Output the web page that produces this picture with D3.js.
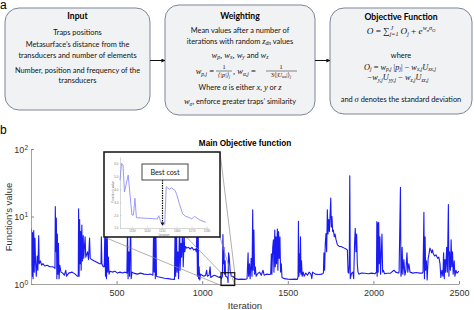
<!DOCTYPE html>
<html>
<head>
<meta charset="utf-8">
<script src="https://cdn.jsdelivr.net/npm/d3@7"></script>
<style>
  body { margin: 0; background: #fff; }
  svg { display: block; }
</style>
</head>
<body>
<script>
/*** DATA ***/
// main objective function (log scale)
const iterations = [
  0, 3, 6, 9, 12, 16, 19, 23, 27, 31, 36, 40, 45, 48, 55, 62, 70, 80, 95, 110, 125, 137,
  140, 142, 145, 148, 151, 154, 157, 160, 164, 168, 175, 185, 195, 203, 208, 220, 240, 258, 272,
  276, 278, 281, 284, 287, 290, 293, 297, 300, 305, 308, 316, 320, 330, 336, 342, 346, 355, 370, 385, 400, 409, 411, 414, 422,
  428, 432, 435, 438, 441, 445, 448, 452, 456, 462, 475, 490, 505, 520, 535, 550, 560, 564, 567, 572, 576, 582, 585, 590, 600,
  620, 640, 660, 680, 700, 712, 716, 719, 723, 726, 730, 733, 740, 760, 780, 800, 820, 838,
  842, 845, 850, 853, 858, 862, 868, 871, 876, 880, 886, 889, 895, 898, 903, 910, 920, 930, 940, 950, 960, 966,
  969, 972, 976, 979, 982, 986, 990, 1000, 1010, 1020, 1026, 1030, 1040, 1046, 1050, 1060, 1070, 1085, 1100,
  1105, 1112, 1118, 1121, 1124, 1127, 1130, 1134, 1137, 1148, 1151, 1154, 1158, 1163, 1170, 1180, 1192, 1210, 1230, 1250, 1262,
  1268, 1271, 1276, 1280, 1286, 1291, 1295, 1298, 1302, 1306, 1310, 1315, 1322, 1335, 1345, 1355, 1362, 1375, 1390, 1400,
  1404, 1407, 1412, 1416, 1419, 1424, 1427, 1431, 1434, 1439, 1442, 1446, 1450, 1454, 1458, 1462, 1466, 1480, 1500, 1520, 1540, 1556,
  1560, 1562, 1565, 1568, 1571, 1574, 1577, 1580, 1584, 1590, 1596, 1605, 1615, 1625, 1635, 1640, 1645, 1660, 1680, 1700,
  1708, 1711, 1715, 1719, 1723, 1727, 1731, 1735, 1739, 1743, 1747, 1751, 1754, 1758, 1762, 1766, 1772, 1776, 1782, 1790, 1800, 1810, 1820, 1830, 1840, 1848, 1852, 1856,
  1859, 1862, 1865, 1868, 1873, 1880, 1885, 1890, 1894, 1898, 1902, 1906, 1910, 1915, 1930, 1950, 1970, 1990, 2010,
  2018, 2020, 2022, 2025, 2028, 2031, 2034, 2038, 2042, 2046, 2050, 2054, 2058, 2065, 2080, 2100, 2120, 2130, 2145,
  2150, 2158, 2161, 2164, 2168, 2172, 2178, 2184, 2190, 2196, 2201, 2207, 2214, 2230, 2250, 2270, 2285,
  2290, 2295, 2298, 2302, 2305, 2310, 2314, 2320, 2325, 2330, 2335, 2340, 2345, 2350, 2358, 2366, 2375, 2382, 2389, 2394, 2400, 2406,
  2410, 2414, 2418, 2422, 2428, 2432, 2438, 2441, 2445, 2450, 2454, 2458, 2462, 2466, 2472, 2476, 2482, 2488, 2494, 2500
];
const values = [
  1.8, 6.5, 1.3, 5.8, 1.2, 6.2, 1.5, 4.8, 2.0, 1.3, 2.6, 1.6, 5.2, 2.0, 2.2, 1.9, 2.0, 1.85, 1.9, 1.8, 1.8, 1.75,
  1.7, 14, 3, 9.5, 1.2, 5.5, 1.4, 4, 1.2, 1.9, 1.5, 1.45, 1.35, 1.6, 1.3, 1.45, 1.5, 1.4, 1.3,
  1.3, 13, 1.3, 9, 2, 6, 1.6, 7.5, 2.2, 5.2, 2.4, 5, 2.5, 3, 2.3, 4.8, 2.4, 2.3, 2.2, 2.1, 2.0, 2.0, 5, 2.0, 1.8,
  1.8, 8, 1.3, 6, 1.2, 7, 1.5, 2.5, 1.4, 1.55, 1.5, 1.55, 1.45, 1.5, 1.45, 1.5, 1.45, 7, 1.2, 3, 1.3, 9, 1.2, 1.5, 1.45,
  1.4, 1.45, 1.4, 1.38, 1.4, 1.35, 6, 1.5, 10, 1.2, 5, 1.3, 1.28, 1.25, 1.22, 1.2, 1.18, 1.17,
  8, 1.3, 6, 1.5, 3, 1.2, 9, 1.6, 4, 2.5, 7, 1.8, 5, 3, 3.6, 3.4, 3.5, 3.3, 3.5, 3.2, 3.3, 3.0,
  7, 1.3, 12, 1.2, 1.8, 1.15, 1.4, 1.35, 1.3, 1.35, 1.6, 1.3, 1.35, 1.8, 1.25, 1.3, 1.35, 1.3, 1.25,
  1.3, 1.2, 1.3, 5.4, 2.0, 3.5, 1.4, 2.2, 1.3, 1.25, 1.05, 2.9, 2.5, 1.6, 1.3, 1.3, 1.2, 1.17, 1.18, 1.17, 1.2,
  2.9, 1.3, 2.0, 1.2, 2.4, 1.3, 12.6, 1.6, 6.3, 1.4, 1.8, 1.3, 1.4, 1.5, 1.35, 1.6, 1.35, 1.4, 1.38, 1.4,
  2.8, 1.4, 3.5, 4.5, 1.5, 6.3, 1.8, 5, 2, 6.5, 1.6, 6, 2.4, 5, 1.5, 2, 1.25, 1.2, 1.18, 1.17, 1.18, 1.17,
  1.3, 8.5, 1.3, 2.8, 1.5, 5, 1.4, 2.2, 1.3, 1.5, 1.3, 1.45, 1.35, 1.5, 1.4, 1.2, 1.5, 1.4, 1.38, 1.4,
  1.45, 2.9, 1.6, 4, 5.6, 3, 12.6, 5.5, 9, 6, 10.5, 18.7, 7, 10, 6, 6.3, 5, 5.5, 4.5, 3.8, 3.6, 3.6, 3.5, 3.4, 3.3, 3.2, 1.5, 1.45,
  2, 40, 1.2, 1.3, 1.45, 1.5, 1.2, 4, 6.7, 3, 5.5, 2, 1.5, 1.4, 1.45, 1.44, 1.42, 1.45, 1.42,
  1.5, 8.4, 1.3, 8, 1.5, 8.2, 2, 5, 1.4, 2.8, 5.5, 1.5, 1.6, 1.42, 1.44, 1.45, 1.6, 1.5, 1.45,
  1.5, 27, 1.3, 1.5, 3.5, 1.4, 2.3, 1.35, 1.6, 2.9, 1.5, 2.0, 1.5, 1.45, 1.48, 1.45, 1.45,
  1.5, 11.5, 1.2, 5, 1.6, 2.2, 1.15, 2.4, 2.8, 3.4, 3.2, 2.9, 3.2, 2.8, 2.6, 2.7, 2.4, 2.5, 2.0, 1.25, 1.6, 1.3,
  2.9, 1.2, 2.3, 1.5, 3.5, 1.5, 15, 1.3, 3, 1.6, 4.5, 1.8, 3.0, 1.4, 2.2, 1.3, 1.6, 1.45, 1.5, 1.55
];
const xTicks = [500, 1000, 1500, 2000, 2500];
const yTicks = [1, 10, 100];

// zoomed inset (linear scale)
const insetIter = [1122, 1123, 1124, 1125, 1127.5, 1130, 1131, 1132, 1133, 1140, 1147, 1148, 1149, 1150.5, 1152,
  1153, 1155, 1156.5, 1159, 1160, 1162, 1164, 1166, 1168.7, 1170, 1172, 1175, 1177, 1179.5];
const insetVal = [4.7, 6.0, 5.9, 3.8, 5.1, 2.0, 2.0, 3.3, 1.8, 1.75, 1.7, 1.95, 1.6, 1.2, 1.3,
  4.2, 4.0, 4.1, 3.9, 3.6, 2.8, 2.1, 1.9, 1.8, 1.7, 1.9, 1.65, 1.55, 1.45];
const insetXTicks = [1130, 1140, 1150, 1160, 1170, 1180];
const insetYTicks = [1, 2, 3, 4, 5, 6];
const zoomIter = [1110, 1190];   // boxed window on the main plot
const zoomVal = [0.95, 1.47];

/*** SETUP ***/
const SANS = 'Lato, "Open Sans", sans-serif';
const SERIF = '"Liberation Serif", "DejaVu Serif", serif';
const HELV = '"Liberation Sans", Arial, sans-serif';

const svg = d3.select('body')
  .append('svg')
  .attr('width', 474)
  .attr('height', 310);

// rich text helper: parts = [text, kind, dx]
// kind: '' sans, 'r' serif roman, 'm' serif italic, +b subscript, +p superscript, +q sub of sup
function rich(g, x, y, parts, size, anchor) {
  const t = g.append('text')
    .attr('x', x).attr('y', y)
    .attr('text-anchor', anchor || 'middle')
    .style('font-size', size + 'px')
    .style('fill', '#111');
  let off = 0;
  parts.forEach(([s, k, dx]) => {
    k = k || '';
    const serif = k.includes('m') || k.includes('r');
    const fs = serif ? size * 1.15 : size;
    let base = 0, sz = fs;
    if (k.includes('b')) { base = size * 0.25; sz = fs * 0.66; }
    if (k.includes('p')) { base = -size * 0.45; sz = fs * 0.66; }
    if (k.includes('q')) { base = -size * 0.22; sz = fs * 0.5; }
    const ts = t.append('tspan').attr('dy', base - off).text(s);
    off = base;
    if (dx) ts.attr('dx', dx);
    ts.style('font-family', serif ? SERIF : SANS)
      .style('font-style', k.includes('m') ? 'italic' : 'normal')
      .style('font-size', sz + 'px');
  });
  return t;
}

/*** PANEL A ***/
svg.append('text').attr('x', 0).attr('y', 9).style('font-family', HELV).style('font-size', '12px').text('a');

const boxes = [
  { x: 5, y: 8, w: 145, h: 102 },
  { x: 165, y: 5, w: 150, h: 110 },
  { x: 330, y: 8, w: 142, h: 106 }
];
svg.selectAll('.box')
  .data(boxes)
  .join('rect')
  .attr('class', 'box')
  .attr('x', d => d.x).attr('y', d => d.y)
  .attr('width', d => d.w).attr('height', d => d.h)
  .attr('rx', 14)
  .attr('fill', '#f1f2f4')
  .attr('stroke', '#7d8597')
  .attr('stroke-width', 1);

svg.append('defs').append('marker')
  .attr('id', 'arr')
  .attr('viewBox', '0 0 10 10')
  .attr('refX', 9).attr('refY', 5)
  .attr('markerWidth', 4).attr('markerHeight', 4)
  .attr('orient', 'auto')
  .append('path').attr('d', 'M0,0L10,5L0,10z').attr('fill', '#111');

[[150, 165], [315, 330]].forEach(([a, b]) => {
  svg.append('line')
    .attr('x1', a).attr('x2', b).attr('y1', 60.5).attr('y2', 60.5)
    .attr('stroke', '#111').attr('stroke-width', 1)
    .attr('marker-end', 'url(#arr)');
});

const pa = svg.append('g');
const T = 7.4;
// input box
pa.append('text').attr('x', 77.5).attr('y', 19).attr('text-anchor', 'middle')
  .style('font-family', SANS).style('font-weight', 700).style('font-size', '8.6px').text('Input');
[['Traps positions', 34.5], ['Metasurface\u2019s distance from the', 47], ['transducers and number of elements', 58],
 ['Number, position and frequency of the', 73], ['transducers', 82.5]].forEach(([s, yy]) => {
  rich(pa, 77.5, yy, [[s, '']], T);
});

// weighting box
pa.append('text').attr('x', 240).attr('y', 18.5).attr('text-anchor', 'middle')
  .style('font-family', SANS).style('font-weight', 700).style('font-size', '8.6px').text('Weighting');
rich(pa, 240, 33, [['Mean values after a number of', '']], T);
rich(pa, 240, 43.5, [['iterations with random ', ''], ['z', 'm'], ['dn', 'mb'], [' values', '']], T);
rich(pa, 240, 57.5, [['w', 'm'], ['p', 'mb'], [', ', 'r'], ['w', 'm'], ['x', 'mb'], [', ', 'r'], ['w', 'm'], ['y', 'mb'],
  [' and ', ''], ['w', 'm'], ['z', 'mb']], T);
rich(pa, 214, 74, [['w', 'm'], ['p,j', 'mb'], [' =', 'r']], T, 'end');
rich(pa, 224, 69, [['1', 'r']], 5.4);
pa.append('line').attr('x1', 216).attr('x2', 232).attr('y1', 71).attr('y2', 71).attr('stroke', '#111').attr('stroke-width', 0.5);
rich(pa, 224, 77, [['\u27e8|p|\u27e9', 'm'], ['j', 'mb']], 5.4);
rich(pa, 233, 74, [[', ', 'r'], ['w', 'm'], ['\u03b1,j', 'mb'], [' =', 'r']], T, 'start');
rich(pa, 281, 69, [['1', 'r']], 5.4);
pa.append('line').attr('x1', 266).attr('x2', 297).attr('y1', 71).attr('y2', 71).attr('stroke', '#111').attr('stroke-width', 0.5);
rich(pa, 281, 77, [['3\u27e8|', 'r'], ['U', 'm'], ['\u03b1\u03b1', 'mb'], ['|\u27e9', 'r'], ['j', 'mb']], 5.4);
rich(pa, 240, 90, [['Where ', ''], ['\u03b1', 'm'], [' is either ', ''], ['x', 'm'], [', ', ''], ['y', 'm'], [' or ', ''], ['z', 'm']], T);
rich(pa, 240, 104, [['w', 'm'], ['\u03c3', 'mb'], [', enforce greater traps\u2019 similarity', '']], T);

// objective function box
pa.append('text').attr('x', 401).attr('y', 19.5).attr('text-anchor', 'middle')
  .style('font-family', SANS).style('font-weight', 700).style('font-size', '8.6px').text('Objective Function');
rich(pa, 401, 33.5, [['O', 'm'], [' = ', 'r'], ['\u2211', 'r'], ['j=1', 'mb'], ['J', 'mp', -8], [' O', 'm', 5], ['j', 'mb'],
  [' + ', 'r'], ['e', 'm'], ['w', 'mp'], ['\u03c3', 'mq'], ['\u03c3', 'mp'], ['O', 'mq']], 8);
rich(pa, 401, 57.5, [['where', '']], T);
rich(pa, 400, 69.5, [['O', 'm'], ['j', 'mb'], [' = ', 'r'], ['w', 'm'], ['p,j', 'mb'], [' |', 'r'], ['p', 'm'], ['j', 'mb'],
  ['| \u2212 ', 'r'], ['w', 'm'], ['x,j', 'mb'], ['U', 'm'], ['xx,j', 'mb']], 7.2);
rich(pa, 398, 80, [['\u2212', 'r'], ['w', 'm'], ['y,j', 'mb'], ['U', 'm'], ['yy,j', 'mb'], [' \u2212 ', 'r'], ['w', 'm'], ['z,j', 'mb'],
  ['U', 'm'], ['zz,j', 'mb']], 7.2);
rich(pa, 401, 101.5, [['and ', ''], ['\u03c3', 'm'], [' denotes the standard deviation', '']], T);

/*** PANEL B: MAIN PLOT ***/
svg.append('text').attr('x', 0).attr('y', 134).style('font-family', HELV).style('font-size', '12px').text('b');

const x = d3.scaleLinear().domain([0, 2500]).range([31, 459]);
const y = d3.scaleLog().domain([1, 100]).range([284, 149]);
const series = iterations.map((it, i) => ({ it, v: values[i] }));

svg.append('clipPath').attr('id', 'plotclip')
  .append('rect').attr('x', 31).attr('y', 149).attr('width', 428).attr('height', 137);

const line = d3.line().x(d => x(d.it)).y(d => y(d.v));

svg.append('path')
  .datum(series)
  .attr('clip-path', 'url(#plotclip)')
  .attr('d', line)
  .attr('fill', 'none')
  .attr('stroke', '#1a1af2')
  .attr('stroke-width', 1.1)
  .attr('stroke-linejoin', 'round');

// axes
const xAxis = svg.append('g')
  .attr('transform', 'translate(0,284)')
  .call(d3.axisBottom(x).tickValues(xTicks).tickFormat(d3.format('d'))
    .tickSizeInner(-3).tickSizeOuter(0).tickPadding(6));
const yAxis = svg.append('g')
  .attr('transform', 'translate(31,0)')
  .call(d3.axisLeft(y).tickValues(yTicks).tickSizeInner(-3).tickSizeOuter(0).tickPadding(3).tickFormat(() => ''));
[xAxis, yAxis].forEach(g => {
  g.select('.domain').attr('stroke', '#8a8a8a').attr('stroke-width', 0.8);
  g.selectAll('.tick line').attr('stroke', '#8a8a8a');
  g.selectAll('.tick text').style('font-family', HELV).style('font-size', '9px').attr('fill', '#333');
});
yAxis.selectAll('.tick text').each(function(d) {
  const t = d3.select(this).attr('dy', '0.35em');
  t.append('tspan').text('10');
  t.append('tspan').attr('dy', '-0.45em').style('font-size', '6.5px').text(Math.round(Math.log10(d)));
});

svg.append('text')
  .attr('x', 245).attr('y', 146)
  .attr('text-anchor', 'middle')
  .style('font-family', HELV).style('font-weight', 700).style('font-size', '8.2px')
  .text('Main Objective function');
svg.append('text')
  .attr('x', 245).attr('y', 309)
  .attr('text-anchor', 'middle')
  .style('font-family', HELV).style('font-size', '9.5px').attr('fill', '#333')
  .text('Iteration');
svg.append('text')
  .attr('transform', 'translate(12,217) rotate(-90)')
  .attr('text-anchor', 'middle')
  .style('font-family', HELV).style('font-size', '9.5px').attr('fill', '#333')
  .text('Function\u2019s value');

/*** INSET ***/
const inset = { x: 104, y: 152, w: 116, h: 85 };
const zx0 = x(zoomIter[0]), zx1 = x(zoomIter[1]);
const zy0 = y(zoomVal[0]), zy1 = y(zoomVal[1]);

// connector lines, drawn under the inset
[[inset.x, inset.y, zx0, zy1], [inset.x + inset.w, inset.y, zx1, zy1],
 [inset.x, inset.y + inset.h, zx0, zy0], [inset.x + inset.w, inset.y + inset.h, zx1, zy0]].forEach(([a, b, c, d]) => {
  svg.append('line')
    .attr('x1', a).attr('y1', b).attr('x2', c).attr('y2', d)
    .attr('stroke', '#8c8c8c').attr('stroke-width', 0.7);
});

svg.append('rect')
  .attr('x', zx0).attr('y', zy1)
  .attr('width', zx1 - zx0).attr('height', zy0 - zy1)
  .attr('fill', 'none').attr('stroke', '#111').attr('stroke-width', 1.2);

const ig = svg.append('g');
ig.append('rect')
  .attr('x', inset.x).attr('y', inset.y)
  .attr('width', inset.w).attr('height', inset.h)
  .attr('fill', '#fff').attr('stroke', '#111').attr('stroke-width', 1.5);

const ix = d3.scaleLinear().domain([1122, 1181]).range([120, 208]);
const iy = d3.scaleLinear().domain([1, 6.5]).range([228, 157]);

const ixAxis = ig.append('g').attr('transform', 'translate(0,228)')
  .call(d3.axisBottom(ix).tickValues(insetXTicks).tickFormat(d3.format('d'))
    .tickSizeInner(-1.5).tickSizeOuter(0).tickPadding(1.5));
const iyAxis = ig.append('g').attr('transform', 'translate(120,0)')
  .call(d3.axisLeft(iy).tickValues(insetYTicks).tickSizeInner(-1.5).tickSizeOuter(0).tickPadding(1.5));
[ixAxis, iyAxis].forEach(g => {
  g.select('.domain').attr('stroke', '#b0b0b0').attr('stroke-width', 0.5);
  g.selectAll('.tick line').attr('stroke', '#b0b0b0').attr('stroke-width', 0.4);
  g.selectAll('.tick text').style('font-family', HELV).style('font-size', '3px').attr('fill', '#777');
});
ig.append('text').attr('x', 164).attr('y', 235.5).attr('text-anchor', 'middle')
  .style('font-family', HELV).style('font-size', '3px').attr('fill', '#777').text('Iteration');
ig.append('text').attr('transform', 'translate(114,192) rotate(-90)').attr('text-anchor', 'middle')
  .style('font-family', HELV).style('font-size', '3px').attr('fill', '#777').text('Function\u2019s value');

const iseries = insetIter.map((it, i) => ({ it, v: insetVal[i] }));
ig.append('path')
  .datum(iseries)
  .attr('d', d3.line().x(d => ix(d.it)).y(d => iy(d.v)))
  .attr('fill', 'none')
  .attr('stroke', '#8e8ef8')
  .attr('stroke-width', 0.9);

// best cost annotation
const best = iseries.reduce((a, b) => (b.v < a.v ? b : a));
const bx = ix(best.it);
ig.append('line')
  .attr('x1', bx).attr('x2', bx).attr('y1', 180).attr('y2', iy(best.v) - 2)
  .attr('stroke', '#111').attr('stroke-width', 1.2).attr('stroke-dasharray', '1.5,1');
ig.append('path')
  .attr('d', `M${bx - 2},${iy(best.v) - 3}L${bx + 2},${iy(best.v) - 3}L${bx},${iy(best.v)}z`)
  .attr('fill', '#111');
ig.append('rect')
  .attr('x', 142).attr('y', 164).attr('width', 46).attr('height', 16)
  .attr('fill', '#fff').attr('stroke', '#444').attr('stroke-width', 1);
ig.append('text').attr('x', 165).attr('y', 174.8).attr('text-anchor', 'middle')
  .style('font-family', SANS).style('font-size', '7.2px').attr('fill', '#111').text('Best cost');
</script>
</body>
</html>
